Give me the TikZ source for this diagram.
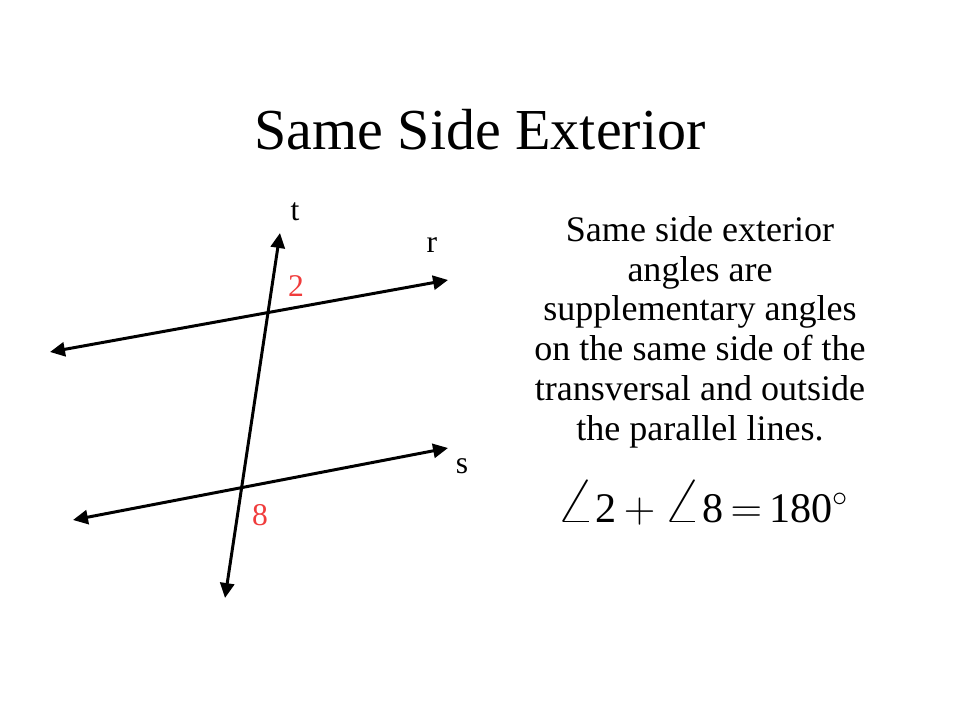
\documentclass[tikz,border=0pt]{standalone}
\usepackage{fontspec}
\setmainfont{Liberation Serif}
\usetikzlibrary{arrows.meta}
\definecolor{anglered}{RGB}{240,60,60}
\newcommand{\bigang}{\scalebox{1.7}[1.5]{$\angle$}}
\tikzset{
  parline/.style={line width=1.7pt, {Triangle[length=8.5pt,width=8pt]}-{Triangle[length=8.5pt,width=8pt]}},
  linelabel/.style={font=\fontsize{18}{20}\selectfont},
  anglelabel/.style={font=\fontsize{18}{20}\selectfont, text=anglered}
}
\begin{document}
\begin{tikzpicture}
            \useasboundingbox (0,0) rectangle (19.200000,14.400000);

            % Title
            \node (title) [anchor=base, font=\fontsize{33}{38}\selectfont] at (9.600000,11.400000) {Same Side Exterior};%

            % End points of the lines
            \coordinate (ttop) at (5.600000,9.740000);
            \coordinate (tbot) at (4.500000,2.440000);
            \coordinate (rleft) at (1.000000,7.360000);
            \coordinate (rright) at (8.960000,8.800000);
            \coordinate (sleft) at (1.460000,4.000000);
            \coordinate (sright) at (8.960000,5.440000);

            % Drawing line r
            \draw [parline] (rleft) -- (rright);%

            % Drawing line s
            \draw [parline] (sleft) -- (sright);%

            % Drawing line t
            \draw [parline] (tbot) -- (ttop);%

            % Marking lines t, r, s
            \node (tlabel) [linelabel] at (5.900000,10.160000) {t};%
            \node (rlabel) [linelabel] at (8.640000,9.500000) {r};%
            \node (slabel) [linelabel] at (9.240000,5.080000) {s};%

            % Marking angles 2 and 8
            \node (angtwo) [anglelabel] at (5.920000,8.680000) {2};%
            \node (angeight) [anglelabel] at (5.200000,4.100000) {8};%

            % Explanation
            \node (expl) [anchor=north, align=center, font=\fontsize{20.5}{22.7}\selectfont] at (14.000000,10.200000)
              {Same side exterior\\ angles are\\ supplementary angles\\ on the same side of the\\ transversal and outside\\ the parallel lines.};%

            % Equation
            \node (eqn) [anchor=base, font=\fontsize{24}{30}\selectfont] at (14.040000,3.960000)
              {\bigang2\,$+$\,\bigang8\,$=$\,180$^\circ$};%
\end{tikzpicture}
\end{document}
